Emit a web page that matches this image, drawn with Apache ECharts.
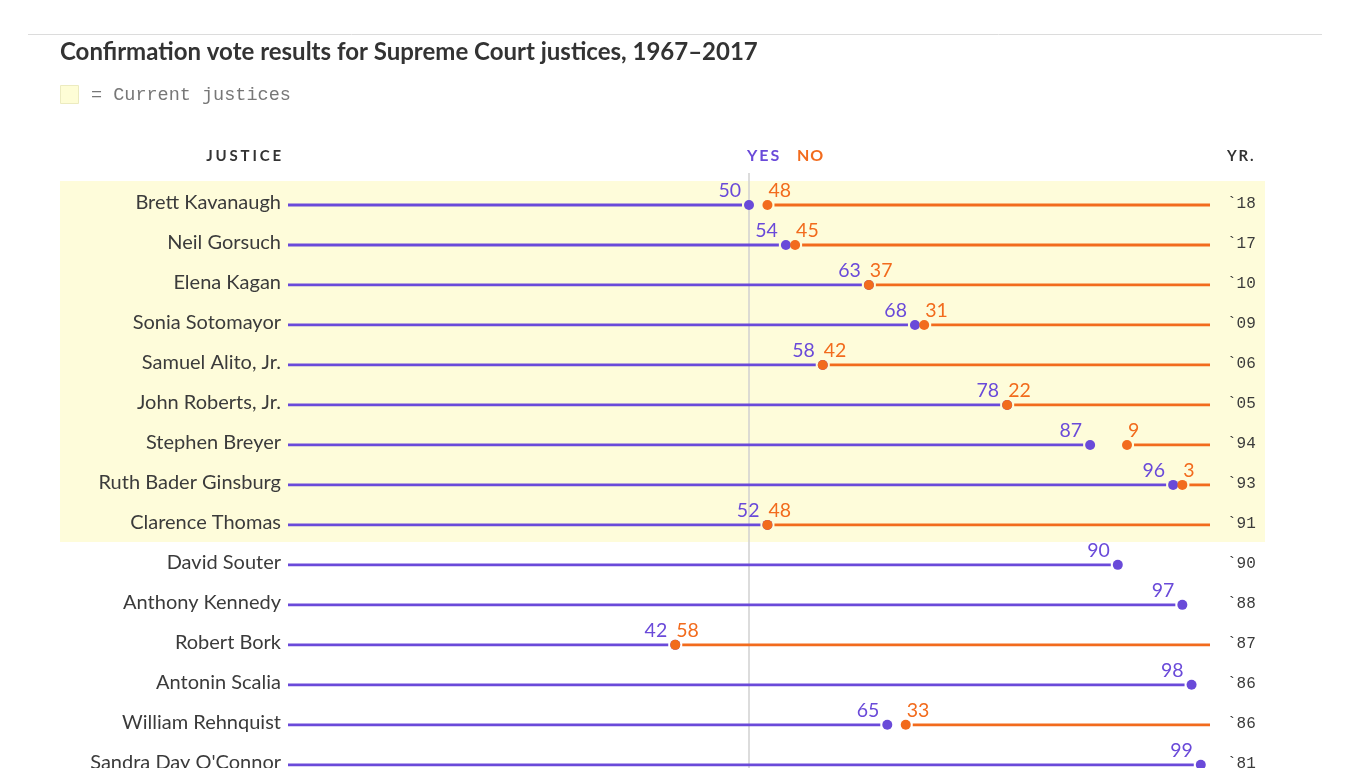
<!DOCTYPE html>
<html>
<head>
<meta charset="utf-8">
<script src="https://cdn.jsdelivr.net/npm/echarts@6/dist/echarts.min.js"></script>
<style>
html,body{margin:0;padding:0;background:#fff;}
#chart{width:1366px;height:768px;}
</style>
</head>
<body>
<div id="chart"></div>
<script>
// ---- data ----
var justices = ["Brett Kavanaugh","Neil Gorsuch","Elena Kagan","Sonia Sotomayor","Samuel Alito, Jr.","John Roberts, Jr.","Stephen Breyer","Ruth Bader Ginsburg","Clarence Thomas","David Souter","Anthony Kennedy","Robert Bork","Antonin Scalia","William Rehnquist","Sandra Day O'Connor"];
var yesVotes = [50,54,63,68,58,78,87,96,52,90,97,42,98,65,99];
var noVotes  = [48,45,37,31,42,22,9,3,48,null,null,58,null,33,null];
var years    = ["`18","`17","`10","`09","`06","`05","`94","`93","`91","`90","`88","`87","`86","`86","`81"];
var current  = [true,true,true,true,true,true,true,true,true,false,false,false,false,false,false];

var PURPLE = '#6a4ad9';
var ORANGE = '#f26b1d';
var TEXT = '#3b3b3b';
var HIGHLIGHT = '#fefcda';
var SANS = 'Lato, "Open Sans", sans-serif';
var MONO = '"Liberation Mono", "DejaVu Sans Mono", monospace';

var rows = justices.map(function(n,i){ return [i, yesVotes[i], noVotes[i] == null ? -1 : noVotes[i]]; });

function spaced(s, sep){ return s.split('').join(sep); }

var chart = echarts.init(document.getElementById('chart'));

function renderRow(params, api){
  var i = api.value(0);
  var yes = api.value(1);
  var no = api.value(2);
  var p0 = api.coord([0, i]);
  var p100 = api.coord([100, i]);
  var py = api.coord([yes, i]);
  var y = p0[1];
  var children = [];
  children.push({type:'text', style:{text: justices[i], x: p0[0]-7, y: y-2, textAlign:'right', textVerticalAlign:'middle', font:'20px ' + SANS, fill: TEXT}});
  children.push({type:'text', style:{text: years[i], x: p100[0]+17, y: y-1, textAlign:'left', textVerticalAlign:'middle', font:'16px ' + MONO, fill: TEXT}});
  children.push({type:'line', shape:{x1:p0[0], y1:y, x2:py[0]-7, y2:y}, style:{stroke: PURPLE, lineWidth: 2.8}});
  children.push({type:'circle', shape:{cx:py[0], cy:y, r:5}, style:{fill: PURPLE}});
  children.push({type:'text', style:{text: String(yes), x: py[0]-8, y: y-14, textAlign:'right', textVerticalAlign:'middle', font:'19.5px ' + SANS, fill: PURPLE}});
  if (no >= 0) {
    var pn = api.coord([100-no, i]);
    children.push({type:'line', shape:{x1:pn[0]+7, y1:y, x2:p100[0], y2:y}, style:{stroke: ORANGE, lineWidth: 2.8}});
    children.push({type:'circle', shape:{cx:pn[0], cy:y, r:5}, style:{fill: ORANGE}});
    children.push({type:'text', style:{text: String(no), x: pn[0]+1, y: y-14, textAlign:'left', textVerticalAlign:'middle', font:'19.5px ' + SANS, fill: ORANGE}});
  }
  return {type:'group', children: children};
}

function renderBg(params, api){
  var i = api.value(0);
  if (!current[i]) return null;
  var p0 = api.coord([0, i]);
  var p100 = api.coord([100, i]);
  var top = api.coord([0, i-0.5])[1] - 4;
  var bot = api.coord([0, i+0.5])[1] - 4;
  return {type:'rect', shape:{x:p0[0]-228, y:top, width:(p100[0]+55)-(p0[0]-228), height:bot-top+1}, style:{fill: HIGHLIGHT}};
}

function renderMid(params, api){
  var top = api.coord([50, -0.5]);
  var bot = api.coord([50, justices.length]);
  return {type:'line', shape:{x1:top[0], y1:top[1]-12, x2:bot[0], y2:bot[1]}, style:{stroke:'#d0d0d0', lineWidth:1.5}};
}

var option = {
  animation: false,
  grid: {left: 288, right: 156, top: 185, bottom: 0},
  xAxis: {type:'value', min:0, max:100, show:false},
  yAxis: {type:'value', min:-0.5, max:14.08, inverse:true, show:false},
  graphic: [
    {type:'line', shape:{x1:28, y1:34.5, x2:1322, y2:34.5}, style:{stroke:'#dcdcdc', lineWidth:1}},
    {type:'text', style:{text:'Confirmation vote results for Supreme Court justices, 1967\u20132017', x:60, y:52, textVerticalAlign:'middle', font:'bold 24px ' + SANS, fill:'#333'}},
    {type:'rect', shape:{x:60.5, y:85.5, width:18, height:18}, style:{fill:'#fefdd6', stroke:'#ecebc0', lineWidth:1}},
    {type:'text', style:{text:'= Current justices', x:91, y:95, textVerticalAlign:'middle', font:'18.5px ' + MONO, fill:'#777'}},
    {type:'text', style:{text:spaced('JUSTICE','\u2009\u200A'), x:281, y:156, textAlign:'right', textVerticalAlign:'middle', font:'bold 15px ' + SANS, fill:'#333'}},
    {type:'text', style:{text:spaced('YES','\u2009'), x:747, y:156, textAlign:'left', textVerticalAlign:'middle', font:'bold 16px ' + SANS, fill:PURPLE}},
    {type:'text', style:{text:spaced('NO','\u200A'), x:797, y:156, textAlign:'left', textVerticalAlign:'middle', font:'bold 16px ' + SANS, fill:ORANGE}},
    {type:'text', style:{text:spaced('YR.','\u2009'), x:1227, y:156, textAlign:'left', textVerticalAlign:'middle', font:'bold 15px ' + SANS, fill:'#333'}}
  ],
  series: [
    {type:'custom', data: rows, renderItem: renderBg, z:1, silent:true, clip:false},
    {type:'custom', data: [[0]], renderItem: renderMid, z:2, silent:true, clip:false},
    {type:'custom', data: rows, renderItem: renderRow, z:3, silent:true, clip:false, encode:{x:1, y:0}}
  ]
};
chart.setOption(option);
</script>
</body>
</html>
